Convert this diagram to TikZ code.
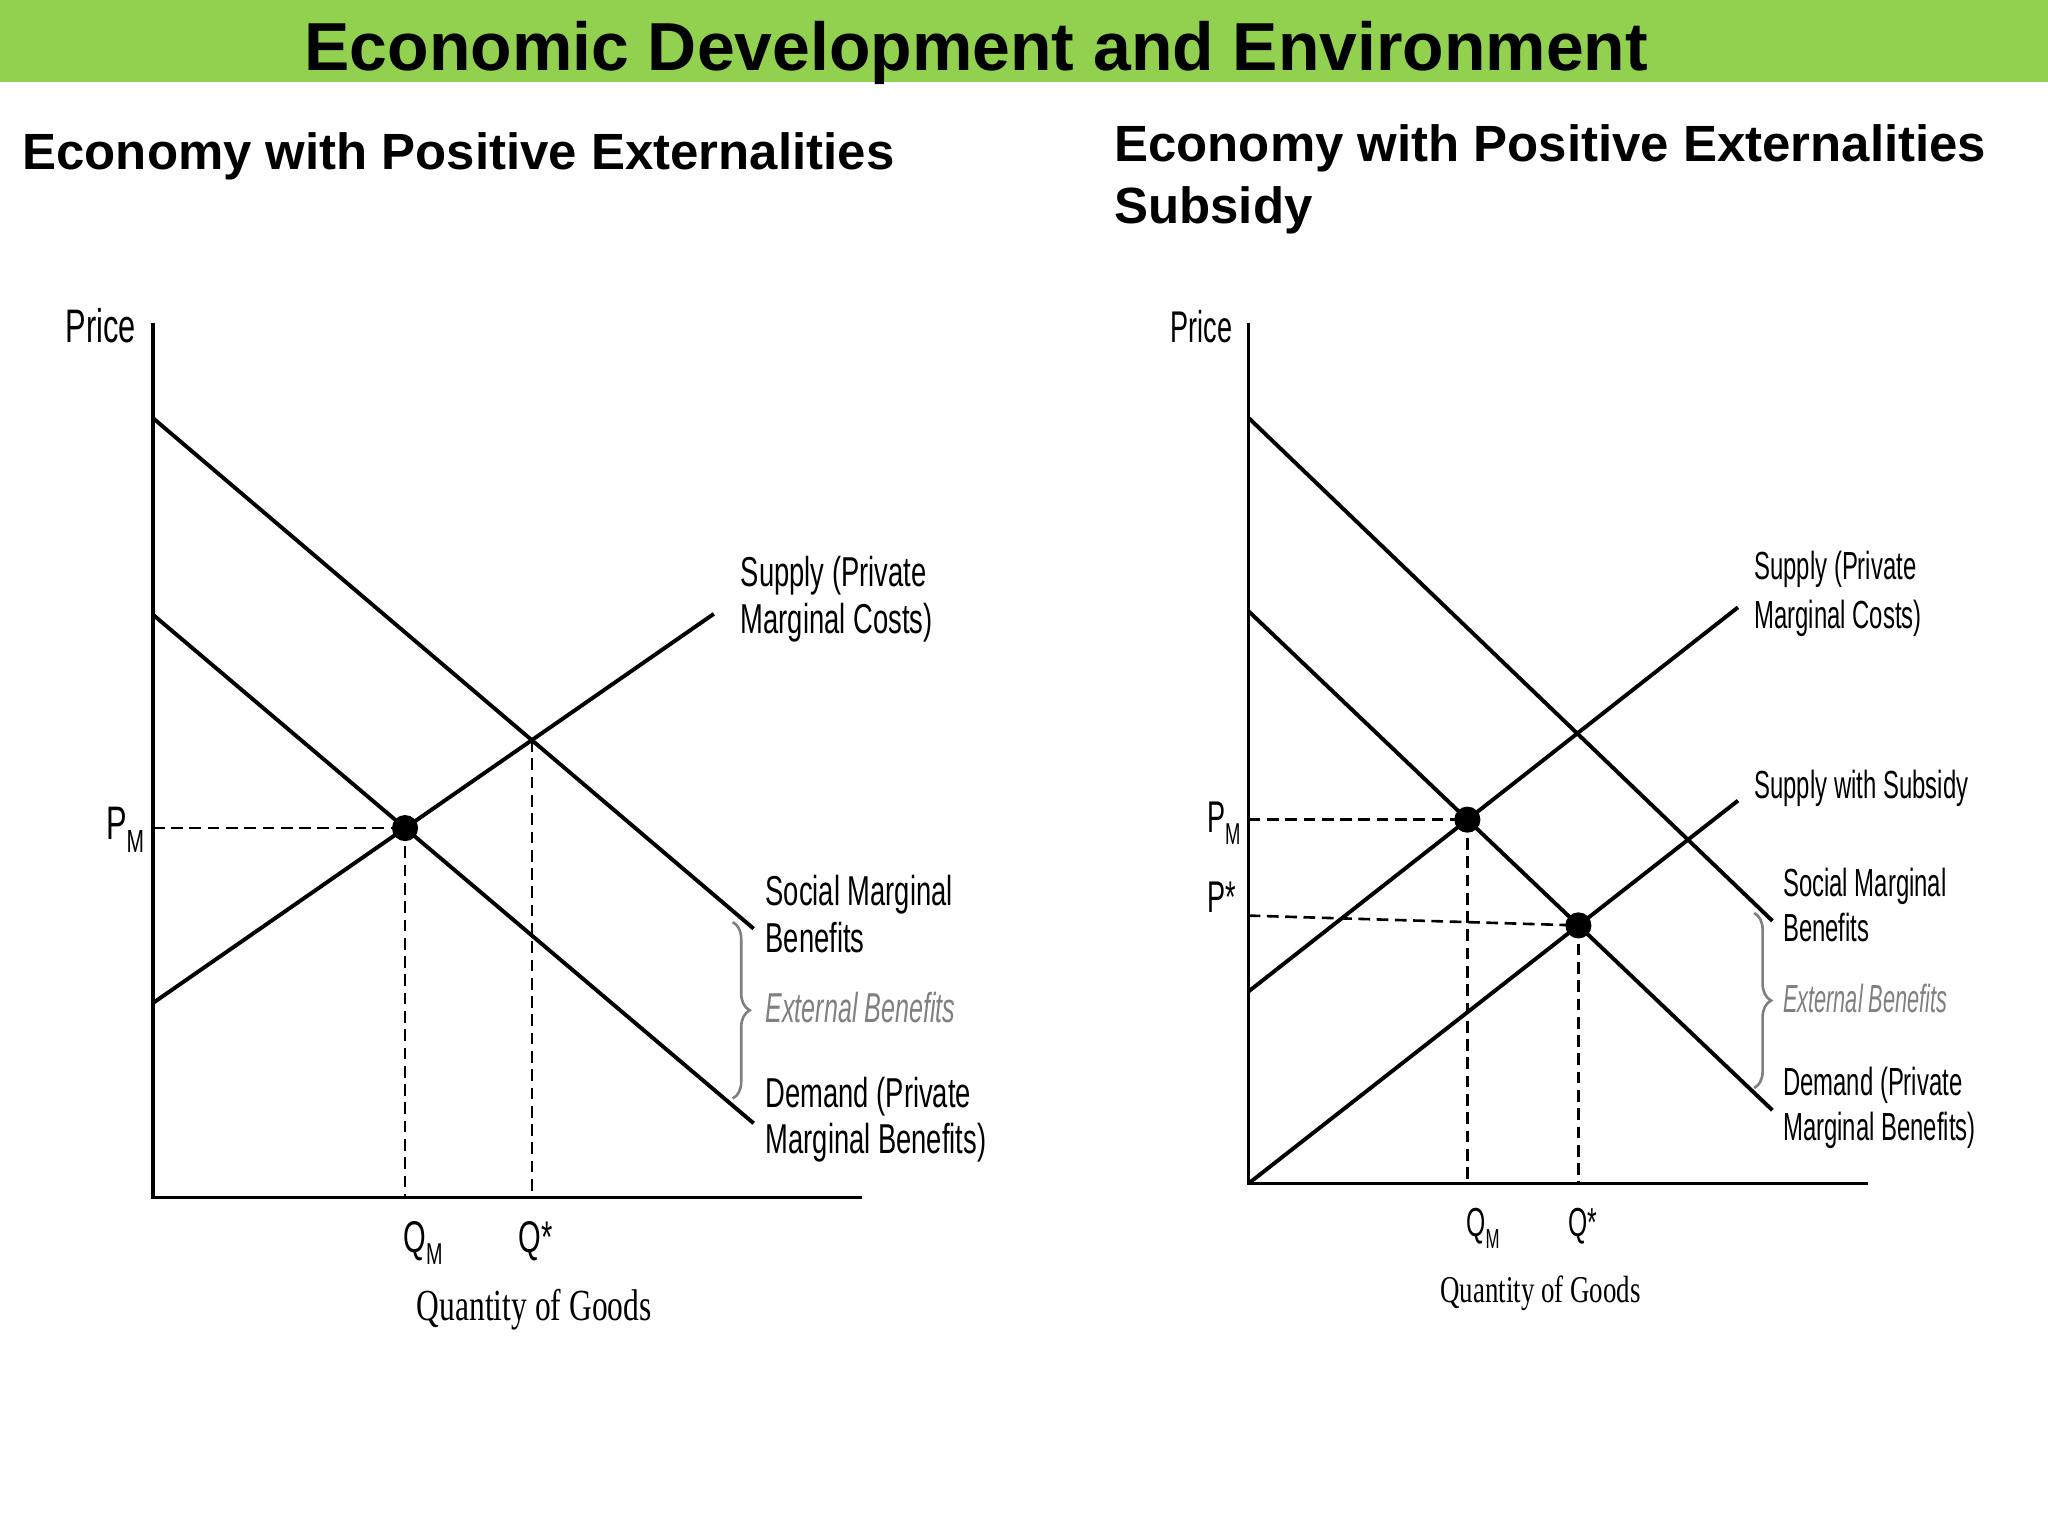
\documentclass[tikz,border=0pt]{standalone}
\usepackage{fontspec}
\setmainfont{Liberation Sans}
\newfontfamily\chartfont[FakeStretch=0.655]{Liberation Sans}
\newfontfamily\chartfontR[FakeStretch=0.61]{Liberation Sans}
\newfontfamily\extfont[FakeStretch=0.6]{Liberation Sans}
\newfontfamily\extfontR[FakeStretch=0.555]{Liberation Sans}
\newfontfamily\qtyfont[FakeStretch=0.71]{Liberation Serif}
\usetikzlibrary{decorations.pathreplacing}
\definecolor{bannergreen}{RGB}{146,208,80}
\definecolor{bracegray}{RGB}{128,128,128}
\newcommand{\lowsub}[1]{\raisebox{-0.28em}{\scalebox{0.68}{#1}}}
\tikzset{
  curve/.style={line width=3pt},
  axisline/.style={line width=2.6pt},
  guide/.style={line width=2pt, dash pattern=on 9pt off 5pt},
  eqdot/.style={circle, fill=black, inner sep=0pt, minimum size=20pt},
  extbrace/.style={decorate, decoration={brace, amplitude=13pt}, draw=bracegray, line width=2pt},
  head/.style={anchor=base west, inner sep=0pt, font=\fontsize{39}{46}\selectfont\bfseries},
  lbl/.style={anchor=base west, inner sep=0pt, font=\fontsize{32}{36}\chartfont},
  lblR/.style={anchor=base west, inner sep=0pt, font=\fontsize{30}{34}\chartfontR},
  extlbl/.style={anchor=base west, inner sep=0pt, text=bracegray, font=\fontsize{32}{36}\extfont\itshape},
  extlblR/.style={anchor=base west, inner sep=0pt, text=bracegray, font=\fontsize{30}{34}\extfontR\itshape},
  qty/.style={anchor=base west, inner sep=0pt, font=\fontsize{34}{40}\qtyfont},
  qtyR/.style={anchor=base west, inner sep=0pt, font=\fontsize{29}{34}\qtyfont}
}
\begin{document}
\begin{tikzpicture}[x=1pt,y=-1pt]
 \useasboundingbox (0,0) rectangle (1568,1176);
 % banner and headings
 \fill[bannergreen] (0,0) rectangle (1568,62.6);
 \node[anchor=base west,inner sep=0pt,font=\fontsize{52}{60}\selectfont\bfseries] (title) at (233,53.6) {Economic Development and Environment};
 \node[head] (leftHead) at (17,130) {Economy with Positive Externalities};
 \node[head] (rightHead) at (853,124) {Economy with Positive Externalities};
 \node[head] (rightHeadTwo) at (853,171) {Subsidy};

 % left chart
 \coordinate (lO) at (117,917);
 \coordinate (lYtop) at (117,247);
 \coordinate (lXend) at (660,917);
 \coordinate (lSMBa) at (117,320);
 \coordinate (lSMBb) at (577,711);
 \coordinate (lDa) at (117,470.5);
 \coordinate (lDb) at (577,860);
 \coordinate (lSa) at (117,768);
 \coordinate (lSb) at (546.5,470);
 \coordinate (lEq) at (intersection of lDa--lDb and lSa--lSb);
 \coordinate (lStar) at (intersection of lSMBa--lSMBb and lSa--lSb);
 \draw[guide] (lEq -| lO) -- (lEq);
 \draw[guide] (lEq) -- (lEq |- lO);
 \draw[guide] (lStar) -- (lStar |- lO);
 \draw[axisline] (lYtop) -- (lO) -- (lXend);
 \draw[curve] (lSMBa) -- (lSMBb);
 \draw[curve] (lDa) -- (lDb);
 \draw[curve] (lSa) -- (lSb);
 \node[eqdot] (lEqDot) at (lEq) {};
 \draw[extbrace] (561,706) -- (561,841);
 \node[anchor=base west,inner sep=0pt,font=\fontsize{36}{40}\chartfont] (lPrice) at (50,262) {Price};
 \node[anchor=base west,inner sep=0pt,font=\fontsize{36}{40}\chartfont] (lPM) at (81,642.4) {P\lowsub{M}};
 \node[anchor=base west,inner sep=0pt,font=\fontsize{34}{40}\chartfont] (lQM) at (308.7,958.6) {Q\lowsub{M}};
 \node[anchor=base west,inner sep=0pt,font=\fontsize{34}{40}\chartfont] (lQS) at (396.7,958.6) {Q*};
 \node[qty] (lQty) at (319,1010.7) {Quantity of Goods};
 \node[lbl] (lSupOne) at (567,449) {Supply (Private};
 \node[lbl] (lSupTwo) at (567,485) {Marginal Costs)};
 \node[lbl] (lSmbOne) at (586,693) {Social Marginal};
 \node[lbl] (lSmbTwo) at (586,729) {Benefits};
 \node[extlbl] (lExt) at (586,783) {External Benefits};
 \node[lbl] (lDemOne) at (586,848) {Demand (Private};
 \node[lbl] (lDemTwo) at (586,883) {Marginal Benefits)};

 % right chart
 \coordinate (rO) at (956,906);
 \coordinate (rYtop) at (956,247);
 \coordinate (rXend) at (1430,906);
 \coordinate (rSMBa) at (956,320);
 \coordinate (rSMBb) at (1357,705);
 \coordinate (rDa) at (956,468);
 \coordinate (rDb) at (1357,850);
 \coordinate (rSa) at (956,759);
 \coordinate (rSb) at (1330.6,465);
 \coordinate (rSuba) at (956,906);
 \coordinate (rSubb) at (1330.6,613);
 \coordinate (rEq) at (intersection of rDa--rDb and rSa--rSb);
 \coordinate (rEqSub) at (intersection of rDa--rDb and rSuba--rSubb);
 \draw[guide] (rEq -| rO) -- (rEq);
 \draw[guide] (rEq) -- (rEq |- rO);
 \draw[guide] (956,701) -- (rEqSub);
 \draw[guide] (rEqSub) -- (rEqSub |- rO);
 \draw[axisline] (rYtop) -- (rO) -- (rXend);
 \draw[curve] (rSMBa) -- (rSMBb);
 \draw[curve] (rDa) -- (rDb);
 \draw[curve] (rSa) -- (rSb);
 \draw[curve] (rSuba) -- (rSubb);
 \node[eqdot] (rEqDot) at (rEq) {};
 \node[eqdot] (rEqSubDot) at (rEqSub) {};
 \draw[extbrace] (1343,699) -- (1343,833);
 \node[anchor=base west,inner sep=0pt,font=\fontsize{34}{40}\chartfontR] (rPrice) at (896,262) {Price};
 \node[anchor=base west,inner sep=0pt,font=\fontsize{34}{40}\chartfontR] (rPM) at (924,637) {P\lowsub{M}};
 \node[anchor=base west,inner sep=0pt,font=\fontsize{34}{40}\chartfontR] (rPS) at (924,699) {P*};
 \node[anchor=base west,inner sep=0pt,font=\fontsize{31}{36}\chartfontR] (rQM) at (1122.5,947) {Q\lowsub{M}};
 \node[anchor=base west,inner sep=0pt,font=\fontsize{31}{36}\chartfontR] (rQS) at (1200.6,947) {Q*};
 \node[qtyR] (rQty) at (1102.6,997) {Quantity of Goods};
 \node[lblR] (rSupOne) at (1343,444) {Supply (Private};
 \node[lblR] (rSupTwo) at (1343,481) {Marginal Costs)};
 \node[lblR] (rSubLbl) at (1343,611) {Supply with Subsidy};
 \node[lblR] (rSmbOne) at (1365,686) {Social Marginal};
 \node[lblR] (rSmbTwo) at (1365,721) {Benefits};
 \node[extlblR] (rExt) at (1365,775) {External Benefits};
 \node[lblR] (rDemOne) at (1365,838.5) {Demand (Private};
 \node[lblR] (rDemTwo) at (1365,873) {Marginal Benefits)};
\end{tikzpicture}
\end{document}
